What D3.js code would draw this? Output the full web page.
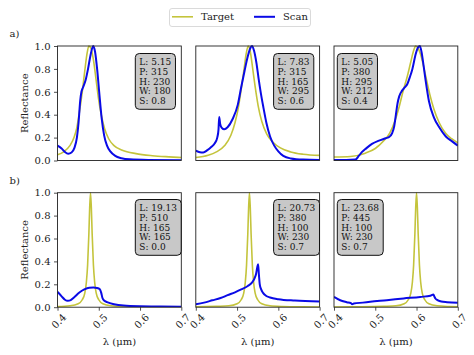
<!DOCTYPE html>
<html><head><meta charset="utf-8">
<script src="https://cdn.jsdelivr.net/npm/d3@7"></script>
<style>
body{margin:0;background:#fff;}
svg{display:block;font-family:"DejaVu Serif","Liberation Serif",serif;}
svg text{font-family:"DejaVu Serif","Liberation Serif",serif;}
</style></head>
<body><svg id="chart" width="474" height="355"></svg>
<script>
// ---------- data ----------
const wavelengthTicks = [0.4, 0.5, 0.6, 0.7];
const reflectanceTicks = [0.0, 0.2, 0.4, 0.6, 0.8, 1.0];
const seriesNames = ["Target", "Scan"];
const rowLabels = ["a)", "b)"];

const a1Target = [[0.40,0.05],[0.415,0.075],[0.43,0.13],[0.44,0.2],[0.447,0.29],[0.453,0.42],[0.46,0.6],[0.466,0.78],[0.471,0.92],[0.476,1.0],[0.481,0.98],[0.487,0.88],[0.493,0.72],[0.499,0.55],[0.506,0.4],[0.514,0.28],[0.524,0.19],[0.537,0.13],[0.557,0.09],[0.59,0.06],[0.63,0.042],[0.67,0.032],[0.70,0.026]];
const a1Scan = [[0.40,0.13],[0.41,0.105],[0.418,0.075],[0.426,0.06],[0.434,0.07],[0.441,0.11],[0.447,0.2],[0.451,0.33],[0.455,0.52],[0.458,0.6],[0.462,0.64],[0.468,0.7],[0.474,0.8],[0.48,0.92],[0.4866,1.0],[0.491,0.95],[0.496,0.8],[0.501,0.6],[0.507,0.37],[0.513,0.22],[0.52,0.13],[0.528,0.08],[0.54,0.04],[0.555,0.02],[0.575,0.01],[0.62,0.005],[0.70,0.003]];
const a2Target = [[0.40,0.026],[0.43,0.045],[0.45,0.075],[0.47,0.13],[0.485,0.22],[0.495,0.33],[0.503,0.46],[0.51,0.62],[0.517,0.8],[0.522,0.93],[0.527,1.0],[0.532,0.95],[0.538,0.8],[0.544,0.64],[0.551,0.48],[0.56,0.34],[0.572,0.23],[0.587,0.16],[0.605,0.11],[0.63,0.075],[0.66,0.055],[0.70,0.045]];
const a2Scan = [[0.40,0.087],[0.41,0.072],[0.418,0.07],[0.428,0.09],[0.438,0.12],[0.446,0.15],[0.452,0.2],[0.455,0.27],[0.4567,0.38],[0.459,0.32],[0.463,0.285],[0.469,0.272],[0.477,0.29],[0.489,0.36],[0.502,0.49],[0.51,0.64],[0.518,0.78],[0.526,0.91],[0.532,0.98],[0.536,1.0],[0.541,0.96],[0.547,0.85],[0.552,0.72],[0.558,0.58],[0.564,0.46],[0.571,0.33],[0.58,0.21],[0.59,0.13],[0.6,0.08],[0.612,0.04],[0.63,0.018],[0.66,0.008],[0.70,0.005]];
const a3Target = [[0.40,0.03],[0.44,0.035],[0.476,0.064],[0.5,0.105],[0.52,0.17],[0.535,0.24],[0.548,0.35],[0.558,0.47],[0.567,0.6],[0.578,0.74],[0.586,0.86],[0.593,0.96],[0.598,1.0],[0.604,0.98],[0.612,0.9],[0.622,0.74],[0.632,0.58],[0.642,0.45],[0.655,0.33],[0.67,0.24],[0.685,0.19],[0.70,0.155]];
const a3Scan = [[0.40,0.005],[0.43,0.004],[0.452,0.008],[0.46,0.04],[0.468,0.075],[0.476,0.1],[0.492,0.145],[0.509,0.174],[0.525,0.194],[0.535,0.21],[0.541,0.24],[0.546,0.3],[0.55,0.4],[0.554,0.5],[0.558,0.56],[0.565,0.61],[0.572,0.64],[0.578,0.67],[0.584,0.73],[0.59,0.8],[0.598,0.93],[0.604,0.99],[0.608,1.0],[0.612,0.95],[0.617,0.83],[0.622,0.7],[0.63,0.52],[0.642,0.377],[0.655,0.29],[0.671,0.21],[0.687,0.165],[0.70,0.13]];
const b1Target = [[0.40,0.005],[0.43,0.012],[0.45,0.03],[0.46,0.065],[0.466,0.12],[0.47,0.22],[0.473,0.37],[0.476,0.64],[0.478,0.87],[0.480,1.0],[0.482,0.87],[0.484,0.64],[0.487,0.37],[0.49,0.22],[0.494,0.12],[0.5,0.065],[0.51,0.03],[0.53,0.012],[0.56,0.006],[0.62,0.003],[0.70,0.002]];
const b1Scan = [[0.40,0.134],[0.41,0.095],[0.418,0.065],[0.425,0.056],[0.432,0.062],[0.44,0.085],[0.453,0.128],[0.465,0.155],[0.477,0.17],[0.487,0.172],[0.496,0.168],[0.502,0.158],[0.506,0.125],[0.509,0.08],[0.513,0.058],[0.52,0.045],[0.537,0.026],[0.56,0.014],[0.6,0.008],[0.65,0.006],[0.70,0.005]];
const b2Target = [[0.40,0.003],[0.45,0.008],[0.48,0.012],[0.5,0.03],[0.51,0.065],[0.516,0.12],[0.52,0.22],[0.523,0.37],[0.526,0.64],[0.528,0.87],[0.530,1.0],[0.532,0.87],[0.534,0.64],[0.537,0.37],[0.54,0.22],[0.544,0.12],[0.55,0.065],[0.56,0.03],[0.58,0.012],[0.61,0.006],[0.66,0.003],[0.70,0.002]];
const b2Scan = [[0.40,0.025],[0.42,0.04],[0.44,0.06],[0.46,0.08],[0.477,0.105],[0.495,0.13],[0.51,0.155],[0.526,0.185],[0.536,0.215],[0.542,0.25],[0.546,0.29],[0.549,0.35],[0.551,0.375],[0.553,0.28],[0.555,0.2],[0.558,0.16],[0.563,0.125],[0.57,0.1],[0.58,0.085],[0.6,0.07],[0.64,0.058],[0.70,0.05]];
const b3Target = [[0.40,0.002],[0.46,0.004],[0.52,0.008],[0.55,0.012],[0.57,0.03],[0.58,0.065],[0.586,0.12],[0.59,0.22],[0.593,0.37],[0.596,0.64],[0.598,0.87],[0.600,1.0],[0.602,0.87],[0.604,0.64],[0.607,0.37],[0.61,0.22],[0.614,0.12],[0.62,0.065],[0.63,0.03],[0.65,0.012],[0.68,0.006],[0.70,0.004]];
const b3Scan = [[0.40,0.09],[0.415,0.061],[0.431,0.044],[0.441,0.035],[0.444,0.026],[0.448,0.032],[0.47,0.04],[0.4876,0.047],[0.528,0.061],[0.5686,0.076],[0.609,0.09],[0.6335,0.1],[0.641,0.11],[0.643,0.095],[0.6457,0.076],[0.652,0.06],[0.66,0.05],[0.674,0.044],[0.70,0.038]];

const a1Params = ["L: 5.15","P: 315","H: 230","W: 180","S: 0.8"];
const a2Params = ["L: 7.83","P: 315","H: 165","W: 295","S: 0.6"];
const a3Params = ["L: 5.05","P: 380","H: 295","W: 212","S: 0.4"];
const b1Params = ["L: 19.13","P: 510","H: 165","W: 165","S: 0.0"];
const b2Params = ["L: 20.73","P: 380","H: 100","W: 230","S: 0.7"];
const b3Params = ["L: 23.68","P: 445","H: 100","W: 230","S: 0.7"];

// ---------- layout ----------
const FONT = "DejaVu Serif";
const targetColor = "#c4c43c";
const scanColor = "#0a0ae6";
const colLefts = [57.5, 195.8, 334];
const rowTops = [46, 192.7];
const panelW = 123.8, panelH = 114.5;

const panels = [
  {row:0,col:0,target:a1Target,scan:a1Scan,params:a1Params,boxLeft:false},
  {row:0,col:1,target:a2Target,scan:a2Scan,params:a2Params,boxLeft:false},
  {row:0,col:2,target:a3Target,scan:a3Scan,params:a3Params,boxLeft:true},
  {row:1,col:0,target:b1Target,scan:b1Scan,params:b1Params,boxLeft:false},
  {row:1,col:1,target:b2Target,scan:b2Scan,params:b2Params,boxLeft:false},
  {row:1,col:2,target:b3Target,scan:b3Scan,params:b3Params,boxLeft:true}
];

const svg = d3.select("#chart");
const defs = svg.append("defs");

panels.forEach((p, i) => {
  const x0 = colLefts[p.col], y0 = rowTops[p.row];
  const x = d3.scaleLinear().domain([0.4, 0.7]).range([x0, x0 + panelW]);
  const y = d3.scaleLinear().domain([0, 1]).range([y0 + panelH, y0]);
  const g = svg.append("g");

  defs.append("clipPath").attr("id", "clip" + i).append("rect")
    .attr("x", x0).attr("y", y0 - 1).attr("width", panelW).attr("height", panelH + 1);

  const line = d3.line().x(d => x(d[0])).y(d => y(d[1])).curve(d3.curveMonotoneX);
  const lines = g.append("g").attr("clip-path", `url(#clip${i})`);
  lines.append("path").datum(p.target).attr("d", line)
    .attr("fill", "none").attr("stroke", targetColor).attr("stroke-width", 1.6);
  lines.append("path").datum(p.scan).attr("d", line)
    .attr("fill", "none").attr("stroke", scanColor).attr("stroke-width", 2);

  if (p.col === 0) {
    const ya = g.append("g").attr("transform", `translate(${x0},0)`)
      .call(d3.axisLeft(y).tickValues(reflectanceTicks).tickFormat(d3.format(".1f")).tickSize(3.5).tickPadding(3.5));
    ya.attr("font-family", FONT);
    ya.select(".domain").remove();
    ya.selectAll("text").attr("font-size", 10).attr("font-family", FONT).attr("fill", "#222");
    ya.selectAll("line").attr("stroke", "#222").attr("stroke-width", 0.8);
    g.append("text").attr("transform", `translate(24,${y0 + panelH / 2}) rotate(-90)`)
      .attr("text-anchor", "middle").attr("dominant-baseline", "central")
      .attr("font-family", FONT).attr("font-size", 10).attr("fill", "#222").text("Reflectance");
  }
  if (p.row === 1) {
    const xa = g.append("g").attr("transform", `translate(0,${y0 + panelH})`)
      .call(d3.axisBottom(x).tickValues(wavelengthTicks).tickFormat(d3.format(".1f")).tickSize(3.5));
    xa.attr("font-family", FONT);
    xa.select(".domain").remove();
    xa.selectAll("line").attr("stroke", "#222").attr("stroke-width", 0.8);
    xa.selectAll("text")
      .attr("font-size", 10).attr("font-family", FONT).attr("fill", "#222")
      .attr("y", 0).attr("dy", null)
      .attr("text-anchor", "middle").attr("dominant-baseline", "central")
      .attr("transform", "translate(1,14) rotate(-45)");
    g.append("text").attr("x", x0 + panelW / 2).attr("y", 344.5)
      .attr("text-anchor", "middle").attr("font-family", FONT).attr("font-size", 10)
      .attr("fill", "#222").text("λ (μm)");
  }

  g.append("rect").attr("x", x0).attr("y", y0).attr("width", panelW).attr("height", panelH)
    .attr("fill", "none").attr("stroke", "#222").attr("stroke-width", 0.9);

  const tx = p.boxLeft ? x0 + 7.3 : x0 + 81.8;
  const boxTop = y0 + (p.row === 0 ? 7.5 : 6.8);
  const bg = g.append("g");
  const rect = bg.append("rect");
  const txt = bg.append("text").attr("font-family", FONT).attr("font-size", 9).attr("fill", "#111");
  p.params.forEach((s, k) => {
    txt.append("tspan").attr("x", tx).attr("y", boxTop + 11.2 + k * 9.9).text(s);
  });
  const bb = txt.node().getBBox();
  rect.attr("x", tx - 4).attr("y", boxTop).attr("width", bb.width + 8).attr("height", 55.8)
    .attr("rx", 4).attr("fill", "#c8c8c8").attr("stroke", "#111").attr("stroke-width", 1);
});

rowLabels.forEach((s, r) => {
  svg.append("text").attr("x", 9.5).attr("y", rowTops[r] - 9).attr("font-family", FONT)
    .attr("font-size", 10).attr("fill", "#222").text(s);
});

const lg = svg.append("g");
lg.append("rect").attr("x", 169.5).attr("y", 8.5).attr("width", 141).attr("height", 18)
  .attr("rx", 2.5).attr("fill", "#fff").attr("stroke", "#d0d0d0").attr("stroke-width", 0.8);
const legendItems = [
  {name: seriesNames[0], color: targetColor, x: 172, w: 1.6},
  {name: seriesNames[1], color: scanColor, x: 254, w: 2}
];
legendItems.forEach(it => {
  lg.append("line").attr("x1", it.x).attr("x2", it.x + 21).attr("y1", 16.8).attr("y2", 16.8)
    .attr("stroke", it.color).attr("stroke-width", it.w);
  lg.append("text").attr("x", it.x + 29).attr("y", 20.3).attr("font-family", FONT)
    .attr("font-size", 10).attr("fill", "#222").text(it.name);
});
</script>
</body></html>
